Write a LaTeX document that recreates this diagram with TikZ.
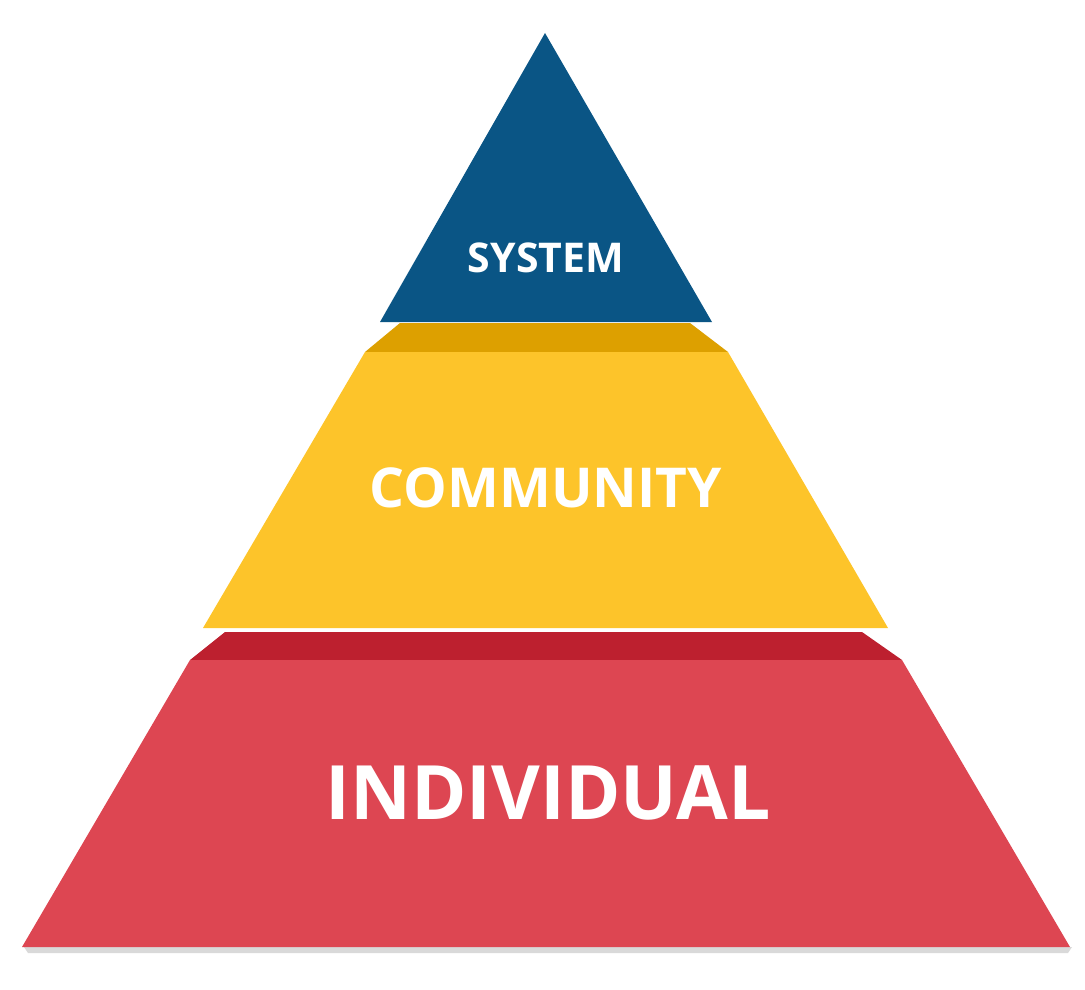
\documentclass[tikz,border=0pt]{standalone}
\usepackage{fontspec}
\setmainfont{Open Sans}
\definecolor{cblue}{HTML}{0A5585}
\definecolor{cgoldd}{HTML}{DDA000}
\definecolor{cgold}{HTML}{FDC42A}
\definecolor{credd}{HTML}{BD202F}
\definecolor{cred}{HTML}{DD4652}
\begin{document}
\begin{tikzpicture}[x=1pt,y=-1pt,lbl/.style={text=white,font=\bfseries}]
\useasboundingbox (0,0) rectangle (1085,990);
\fill[black!15] (24,947) -- (1072,947) -- (1068,953) -- (28,953) -- cycle;
\fill[cblue] (545,33) -- (712,322) -- (380,322) -- cycle;
\fill[cgoldd] (400,323) -- (690,323) -- (728,352) -- (365,352) -- cycle;
\fill[cgold] (365,352) -- (728,352) -- (888,628) -- (203,628) -- cycle;
\fill[credd] (225,632) -- (862,632) -- (902,660) -- (190,660) -- cycle;
\fill[cred] (190,660) -- (902,660) -- (1070,947) -- (22,947) -- cycle;
\node[lbl,font=\fontsize{41}{41}\selectfont\bfseries] (sys) at (546,258) {SYSTEM};
\node[lbl,font=\fontsize{55}{55}\selectfont\bfseries] (com) at (546,488) {COMMUNITY};
\node[lbl,font=\fontsize{75}{75}\selectfont\bfseries] (ind) at (548,793) {INDIVIDUAL};
\end{tikzpicture}
\end{document}
